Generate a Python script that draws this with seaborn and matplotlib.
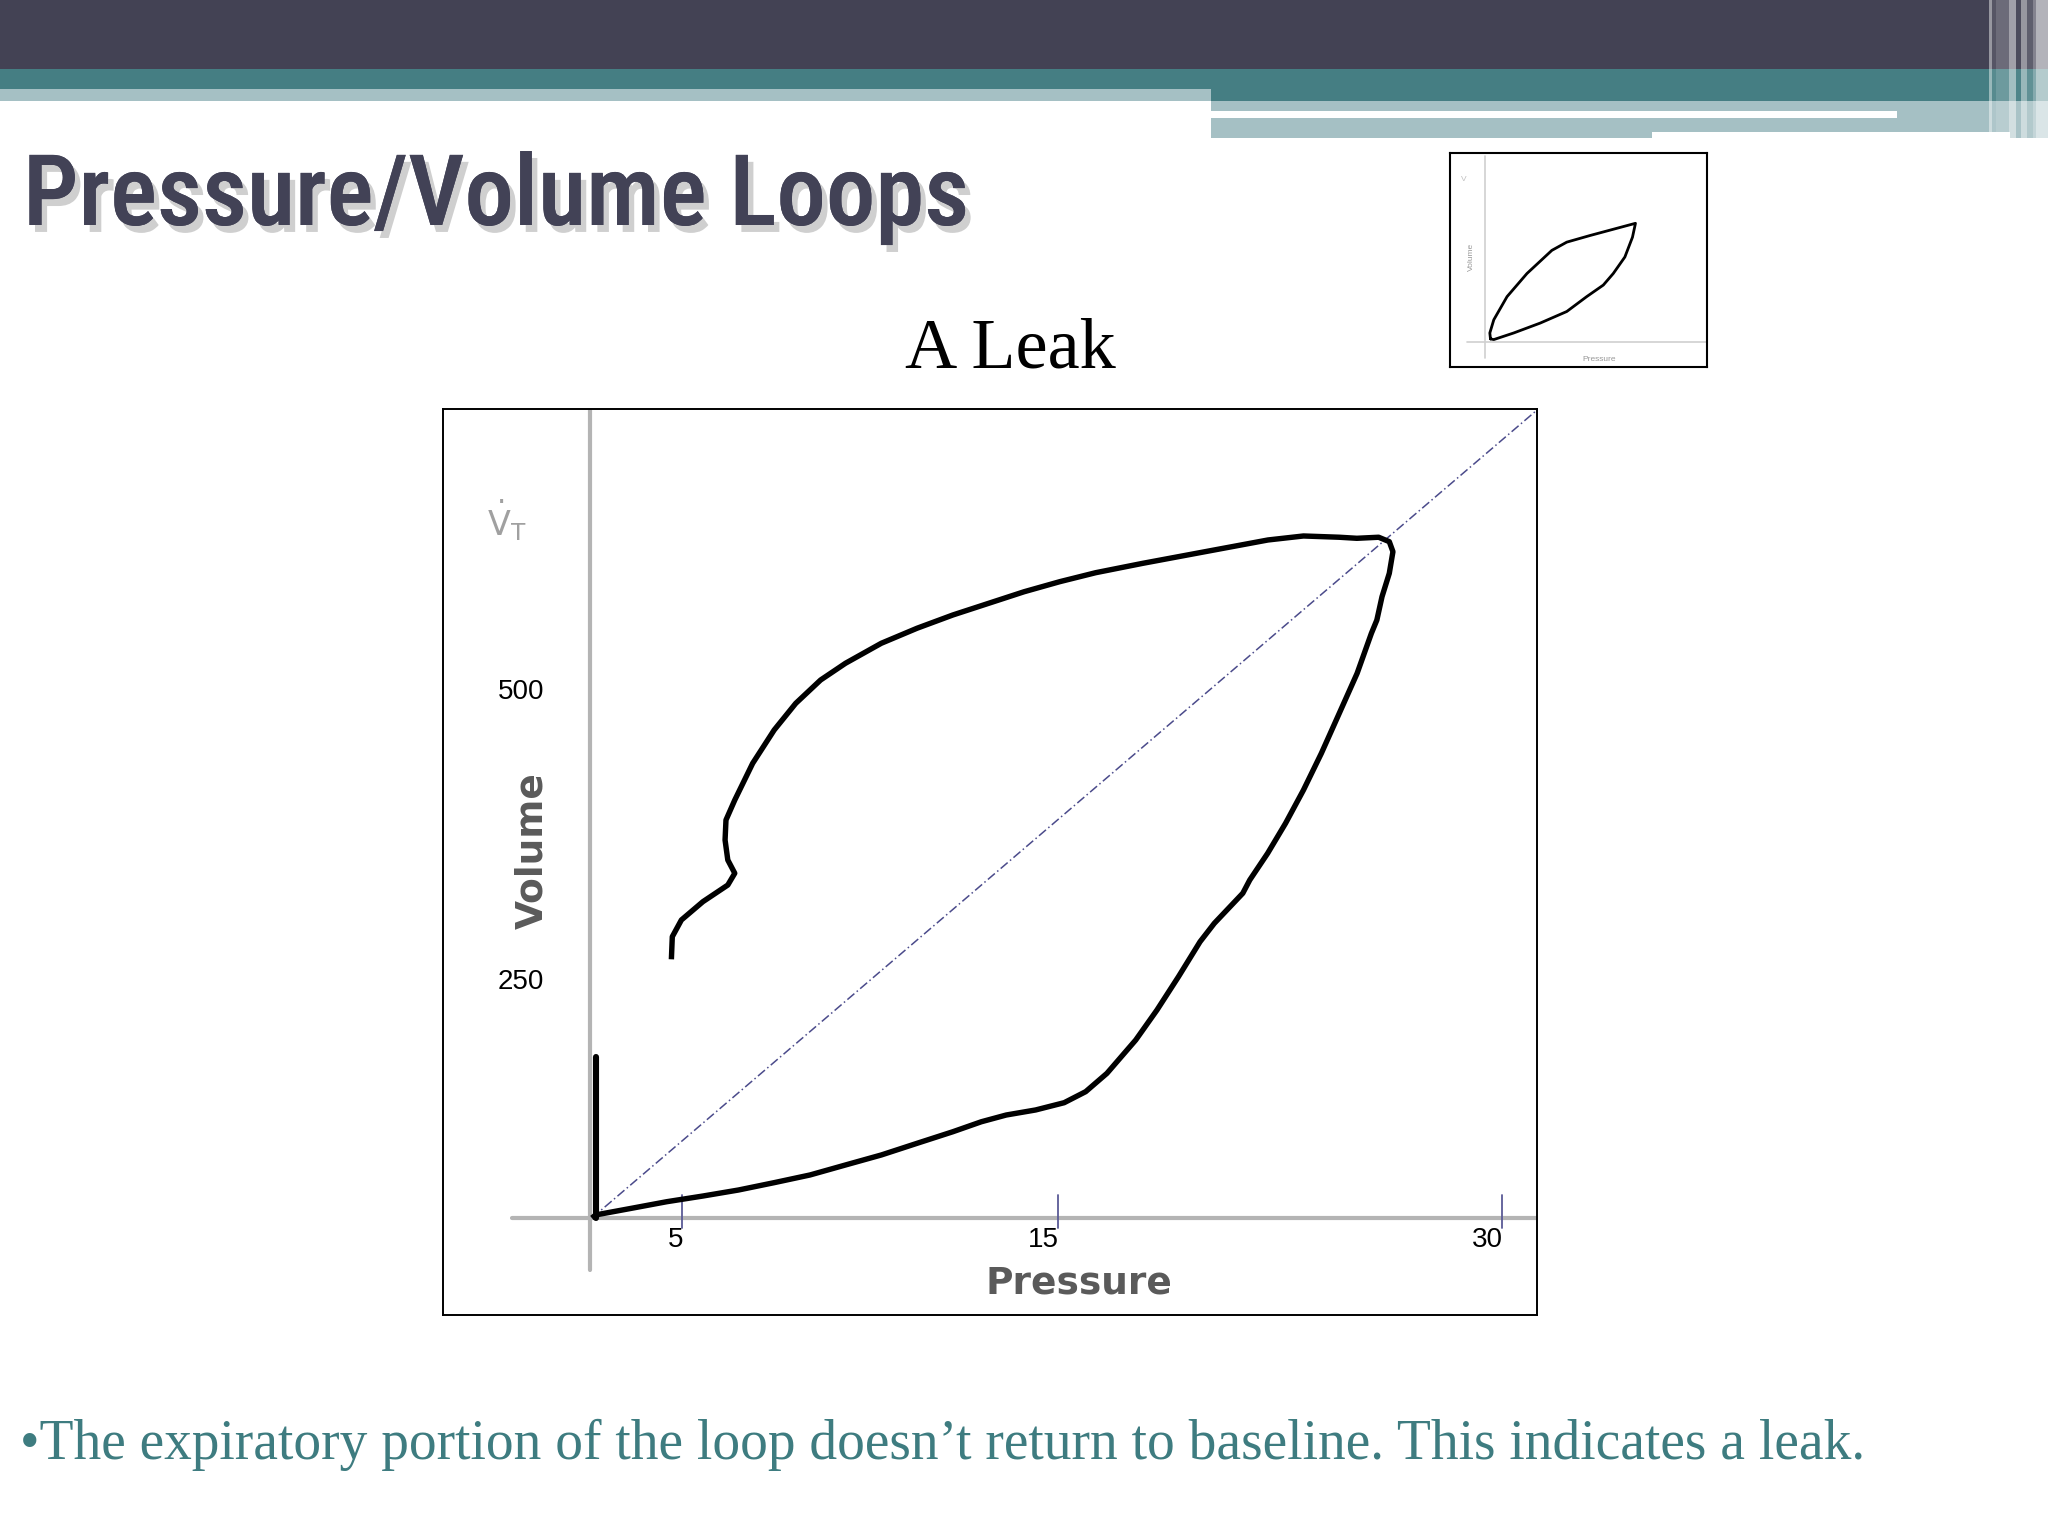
import matplotlib
matplotlib.use("Agg")
import matplotlib.pyplot as plt
import matplotlib.patheffects as pe
from matplotlib.patches import Rectangle
import seaborn as sns

# ---- data ----
# main loop: pressure vs volume, traced from the open upper arm, over the top,
# down the right side and back along the bottom to the origin
pressure = [2.62, 2.65, 2.95, 3.66, 4.48, 4.71, 4.48, 4.39, 4.42, 4.71,
            5.30, 6.01, 6.72, 7.54, 8.36, 9.54, 10.72, 11.90, 13.08, 14.25,
            15.43, 16.61, 18.16, 20.52, 22.29, 23.46, 24.64, 25.22, 25.94, 26.29,
            26.41, 26.29, 26.05, 25.88, 25.70, 25.23, 24.64, 24.05, 23.46, 22.87,
            22.28, 21.69, 21.46, 20.99, 20.52, 20.05, 19.34, 18.63, 17.93, 16.98,
            16.28, 15.57, 14.63, 13.66, 12.84, 11.90, 10.72, 9.54, 8.36, 7.19,
            6.01, 4.83, 3.66, 2.47, 1.30, 0.12, 0.0]
volume = [245.9, 267.4, 283.3, 300.7, 316.5, 327.7, 340.3, 359.3, 378.3, 397.3,
          432.2, 463.9, 489.2, 511.4, 527.3, 546.3, 560.6, 573.2, 584.3, 595.3,
          604.9, 613.4, 622.3, 635.0, 644.5, 648.3, 647.1, 646.1, 647.1, 642.9,
          633.4, 612.8, 590.6, 568.4, 555.8, 517.8, 479.7, 441.7, 406.8, 375.2,
          346.7, 321.3, 308.7, 294.4, 280.1, 262.6, 229.4, 197.7, 169.2, 137.5,
          120.1, 109.6, 102.7, 97.9, 91.5, 82.0, 71.0, 59.9, 50.4, 40.9,
          33.6, 26.6, 20.9, 15.5, 9.2, 2.9, 0.0]

# vertical stroke at the origin
bar_p = [0.13, 0.13]
bar_v = [0, 153]

# dash-dot reference line
diag_p = [0, 31.2]
diag_v = [0, 769]

x_tick_pos = [2.98, 15.36, 30.0]
x_tick_labels = ["5", "15", "30"]
y_tick_pos = [224, 500]
y_tick_labels = ["250", "500"]

# thumbnail loop (normal loop) in its own units
inset_p = [1.0, 0.87, 1.67, 4.33, 8.33, 13.33, 16.33, 21.0, 30.13, 29.53,
           28.0, 25.67, 23.67, 20.33, 16.33, 11.0, 5.67, 1.67, 1.0]
inset_v = [15, 45, 111.7, 228.3, 345, 461.7, 503.3, 536.7, 598.3, 528.3,
           428.3, 345, 286.7, 228.3, 153.3, 95, 45, 11.7, 15]

title = "Pressure/Volume Loops"
subtitle = "A Leak"
caption = "\u2022The expiratory portion of the loop doesn\u2019t return to baseline. This indicates a leak."

sns.set_theme(style="white")
plt.rcParams["font.family"] = ["Liberation Sans", "DejaVu Sans"]

W, H = 2048, 1536
fig = plt.figure(figsize=(20.48, 15.36), dpi=100)
fig.patch.set_facecolor("white")

# ---- slide header bands (pixel coords) ----
bg = fig.add_axes([0, 0, 1, 1], zorder=-5)
bg.set_xlim(0, W)
bg.set_ylim(H, 0)
bg.axis("off")
dark, teal, light = "#434254", "#457e83", "#a5c0c4"
bg.add_patch(Rectangle((0, 0), W, 69, color=dark, lw=0))
bg.add_patch(Rectangle((0, 69), W, 20, color=teal, lw=0))
bg.add_patch(Rectangle((1211, 89), W - 1211, 12, color=teal, lw=0))
bg.add_patch(Rectangle((0, 89), 1211, 12, color=light, lw=0))
bg.add_patch(Rectangle((1211, 101), W - 1211, 37, color=light, lw=0))
bg.add_patch(Rectangle((1211, 111), 686, 7, color="white", lw=0))
bg.add_patch(Rectangle((1652, 132), 358, 7, color="white", lw=0))
stripe_x = [1989, 1992, 1996, 2009, 2016, 2021, 2027, 2033, 2036]
stripe_w = [3, 4, 13, 7, 5, 6, 6, 3, 12]
stripe_a = [0.45, 0.1, 0.22, 0.5, 0.05, 0.45, 0.15, 0.35, 0.6]
for sx, sw, sa in zip(stripe_x, stripe_w, stripe_a):
    bg.add_patch(Rectangle((sx, 0), sw, 138, color="white", alpha=sa, lw=0))

# ---- slide texts ----
fig.text(23 / W, 1 - 225 / H, title, fontsize=71, fontweight="medium",
         family=["Liberation Sans Narrow", "Roboto Condensed", "Roboto", "DejaVu Sans"],
         color="#424256", va="baseline", ha="left",
         path_effects=[pe.withSimplePatchShadow(offset=(4, -5), shadow_rgbFace="#888888", alpha=0.4),
                       pe.Normal()])
fig.text(1010 / W, 1 - 368 / H, subtitle, fontsize=52, family=["Liberation Serif"],
         color="black", ha="center", va="baseline")
fig.text(20 / W, 1 - 1459 / H, caption, fontsize=40, family=["Liberation Serif"],
         color="#3e7c80", ha="left", va="baseline")

# ---- main loop chart ----
ax = fig.add_axes([443 / W, 1 - 1315 / H, (1537 - 443) / W, (1315 - 409) / H])
ax.set_xlim(-4.91, 31.16)
ax.set_ylim(-92.2, 769.0)
ax.set_xticks([])
ax.set_yticks([])
for s in ax.spines.values():
    s.set_visible(True)
    s.set_color("black")
    s.set_linewidth(1.4)

# hand-drawn style inner axes
ax.plot([-0.07, -0.07], [-49, 769], color="#b4b4b4", lw=3, zorder=1)
ax.plot([-2.64, 31.16], [0, 0], color="#b4b4b4", lw=3, zorder=1)
for tp in x_tick_pos:
    ax.plot([tp, tp], [21.9, -9.5], color="#5a5a96", lw=1.3, zorder=2)
for tp, tl in zip(x_tick_pos, x_tick_labels):
    ax.text(tp + 0.05, -21, tl, ha="right", va="center", fontsize=20, color="black")
for tp, tl in zip(y_tick_pos, y_tick_labels):
    ax.text(-2.34, tp, tl, ha="center", va="center", fontsize=20, color="black")

sns.lineplot(x=diag_p, y=diag_v, ax=ax, color="#4b4b8b", lw=1.1,
             linestyle=(0, (6, 2, 1, 2)), sort=False, estimator=None, zorder=2)
sns.lineplot(x=pressure, y=volume, ax=ax, color="black", lw=3.9, sort=False,
             estimator=None, zorder=3, solid_capstyle="butt", solid_joinstyle="round")
sns.lineplot(x=bar_p, y=bar_v, ax=ax, color="black", lw=4.4, sort=False,
             estimator=None, zorder=3)

ax.text(-2.80, 663, r"$\dot{\mathrm{V}}_{\mathrm{T}}$", fontsize=24, color="#a0a0a0",
        ha="center", va="center")
ax.text(-1.95, 349, "Volume", rotation=90, fontsize=27, fontweight="bold",
        family=["DejaVu Sans"], color="#5a5a5a", ha="center", va="center")
ax.text(16.06, -61.8, "Pressure", fontsize=27, fontweight="bold",
        family=["DejaVu Sans"], color="#5a5a5a", ha="center", va="center")

# ---- thumbnail of a normal loop ----
axi = fig.add_axes([1450 / W, 1 - 367 / H, 257 / W, 214 / H])
axi.set_xlim(-7.13, 44.5)
axi.set_ylim(-126.7, 953)
axi.set_xticks([])
axi.set_yticks([])
for s in axi.spines.values():
    s.set_visible(True)
    s.set_color("black")
    s.set_linewidth(1.5)
axi.plot([0, 0], [-80, 937], color="#d0d0d0", lw=1.2)
axi.plot([-3.67, 44.3], [0, 0], color="#d0d0d0", lw=1.2)
sns.lineplot(x=inset_p, y=inset_v, ax=axi, color="black", lw=2.0, sort=False,
             estimator=None, solid_joinstyle="round")
axi.text(-4.33, 820, "V", fontsize=6, color="#c0c0c0", ha="center", va="center")
axi.text(-2.87, 428, "Volume", rotation=90, fontsize=6, color="#999999",
         ha="center", va="center")
axi.text(22.9, -88, "Pressure", fontsize=6, color="#999999", ha="center", va="center")

fig.savefig("out.png", dpi=100)
